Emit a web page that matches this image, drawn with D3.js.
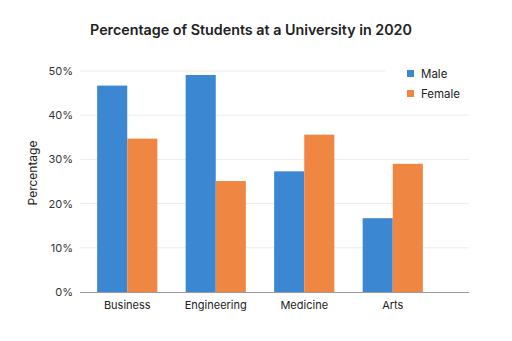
<!DOCTYPE html>
<html>
<head>
<meta charset="utf-8">
<script src="https://cdn.jsdelivr.net/npm/d3@7"></script>
<style>
  body { margin: 0; background: #fff; }
  text { font-family: Inter, "Open Sans", sans-serif; }
</style>
</head>
<body>
<script>
// 数据
const categories = ['Business', 'Engineering', 'Medicine', 'Arts'];
const seriesNames = ['Male', 'Female'];
const maleValues = [46.7, 49.1, 27.3, 16.7];
const femaleValues = [34.7, 25.1, 35.6, 29.0];
const yTicks = [0, 10, 20, 30, 40, 50];
const colors = ['#3b87d1', '#ef8641'];

const width = 512, height = 341;
const plot = {left: 80, right: 469, top: 71, bottom: 292};

const svg = d3.select('body')
    .append('svg')
    .attr('width', width)
    .attr('height', height);

// 比例尺
const y = d3.scaleLinear().domain([0, 50]).range([plot.bottom, plot.top]);
const x = d3.scaleBand().domain(categories).range([83, 437]).paddingInner(0.32).paddingOuter(0.16);
const xInner = d3.scaleBand().domain(seriesNames).range([0, x.bandwidth()]);

// 网格线
svg.append('g')
    .selectAll('line')
    .data(yTicks.filter(d => d > 0))
    .enter()
    .append('line')
    .attr('x1', plot.left)
    .attr('x2', d => d === 50 ? 385 : plot.right)
    .attr('y1', d => y(d))
    .attr('y2', d => y(d))
    .attr('stroke', '#ececec')
    .attr('stroke-width', 1);

// y 轴刻度标签
svg.append('g')
    .selectAll('text')
    .data(yTicks)
    .enter()
    .append('text')
    .attr('x', 73)
    .attr('y', d => y(d) + 4)
    .attr('text-anchor', 'end')
    .attr('font-size', 11)
    .attr('fill', '#333')
    .text(d => d + '%');

// 柱子
const rows = categories.map((c, i) => ({cat: c, values: [maleValues[i], femaleValues[i]]}));
svg.append('g')
    .selectAll('g')
    .data(rows)
    .enter()
    .append('g')
    .attr('transform', d => `translate(${x(d.cat)},0)`)
    .selectAll('rect')
    .data(d => d.values.map((v, i) => ({name: seriesNames[i], v, i})))
    .enter()
    .append('rect')
    .attr('x', d => xInner(d.name))
    .attr('width', xInner.bandwidth())
    .attr('y', d => y(d.v))
    .attr('height', d => y(0) - y(d.v))
    .attr('fill', d => colors[d.i]);

// x 轴
svg.append('line')
    .attr('x1', plot.left)
    .attr('x2', plot.right)
    .attr('y1', plot.bottom + 0.5)
    .attr('y2', plot.bottom + 0.5)
    .attr('stroke', '#999')
    .attr('stroke-width', 1);

svg.append('g')
    .selectAll('text')
    .data(categories)
    .enter()
    .append('text')
    .attr('x', d => x(d) + x.bandwidth() / 2)
    .attr('y', 309)
    .attr('text-anchor', 'middle')
    .attr('font-size', 11)
    .attr('fill', '#222')
    .text(d => d);

// 标题
svg.append('text')
    .attr('x', 251)
    .attr('y', 35)
    .attr('text-anchor', 'middle')
    .attr('font-size', 14.3)
    .attr('font-weight', 600)
    .attr('fill', '#222')
    .text('Percentage of Students at a University in 2020');

// y 轴标题
svg.append('text')
    .attr('transform', 'translate(37,173) rotate(-90)')
    .attr('text-anchor', 'middle')
    .attr('font-size', 12)
    .attr('fill', '#222')
    .text('Percentage');

// 图例
const legend = svg.append('g')
    .selectAll('g')
    .data(seriesNames)
    .enter()
    .append('g')
    .attr('transform', (d, i) => `translate(407,${70 + i * 20})`);
legend.append('rect')
    .attr('width', 7)
    .attr('height', 7)
    .attr('fill', (d, i) => colors[i]);
legend.append('text')
    .attr('x', 14)
    .attr('y', 7.5)
    .attr('font-size', 11.5)
    .attr('fill', '#222')
    .text(d => d);
</script>
</body>
</html>
